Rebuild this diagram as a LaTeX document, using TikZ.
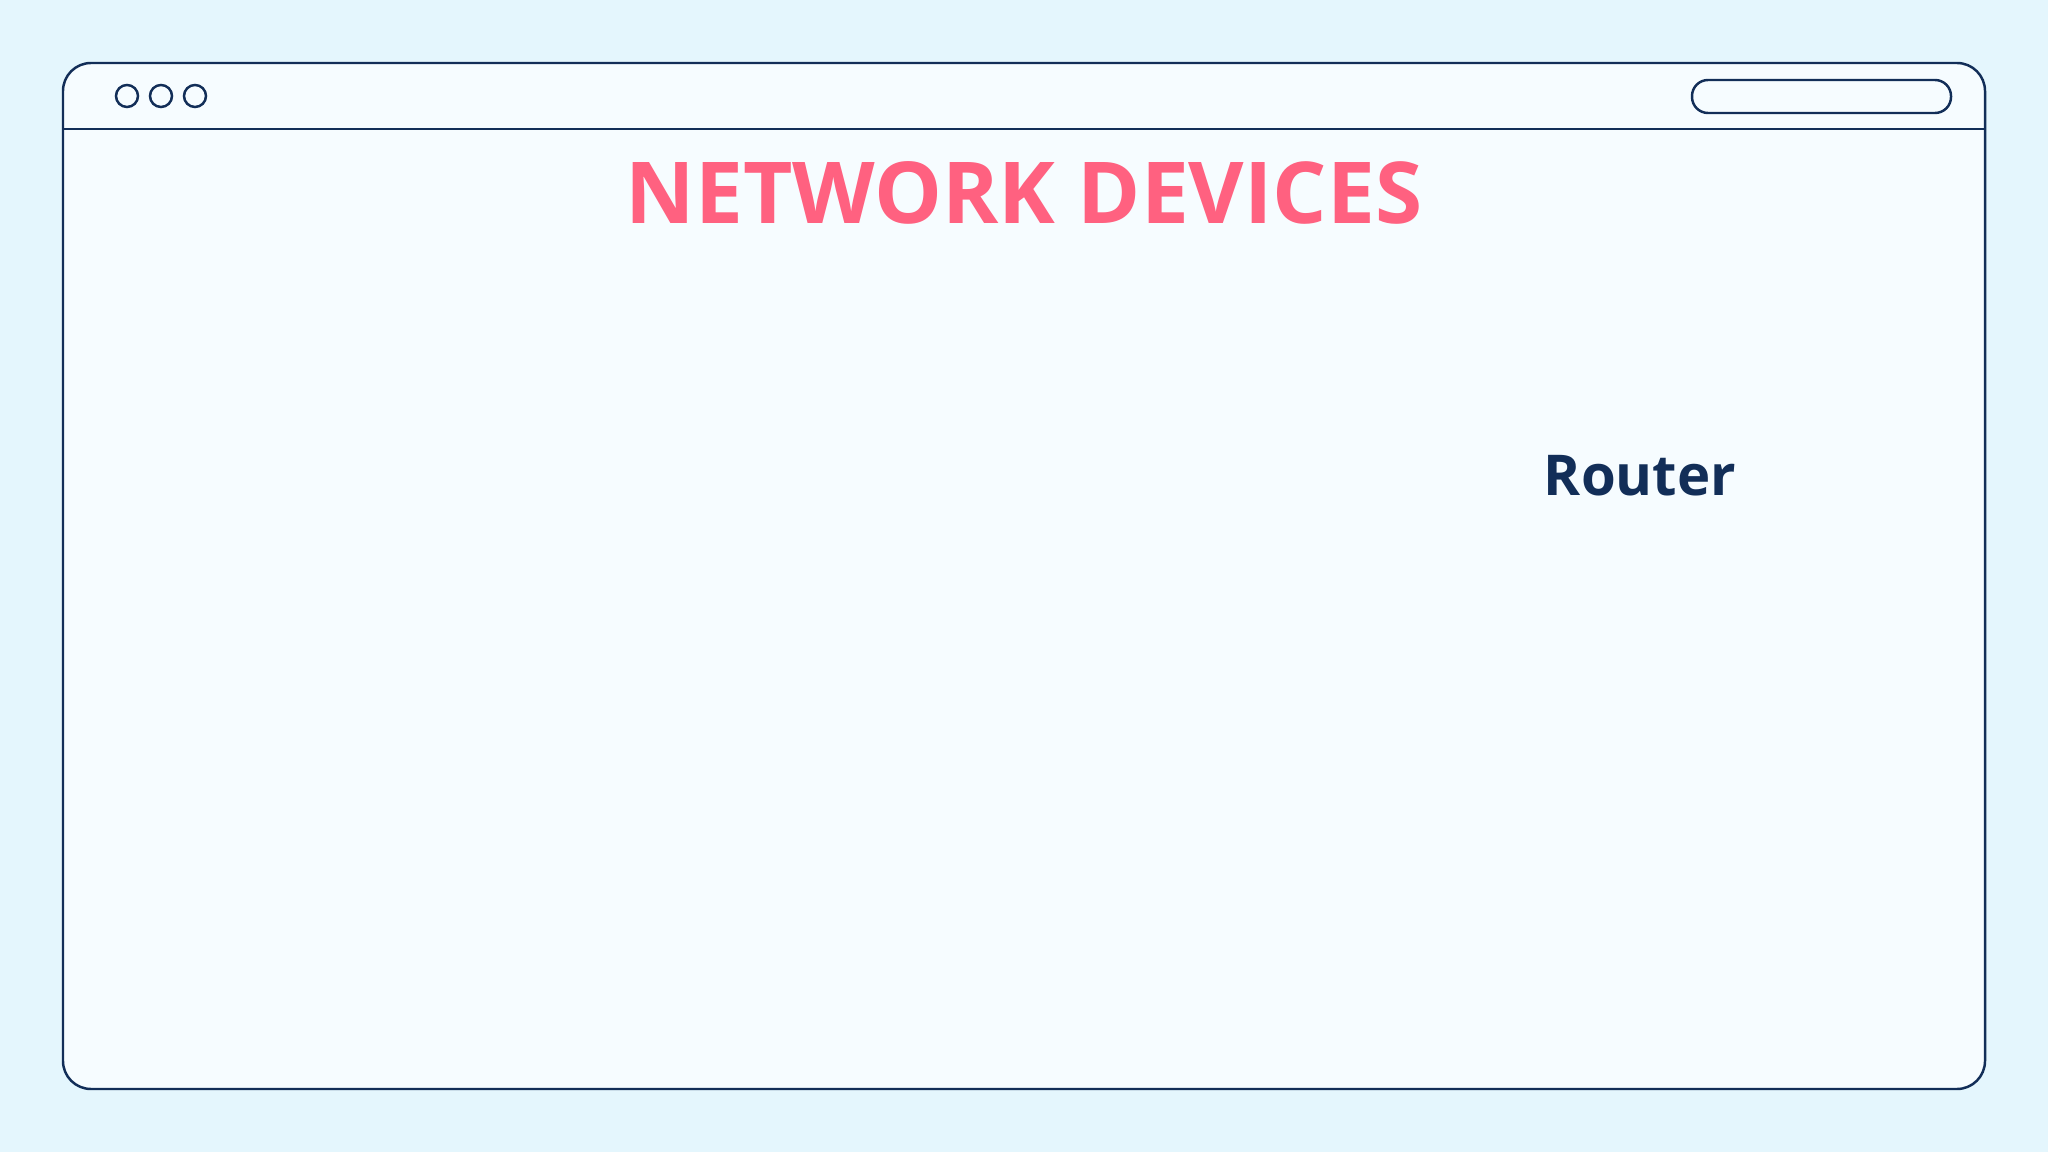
\documentclass[tikz,border=0pt]{standalone}
\usepackage{fontspec}
\setmainfont{Open Sans}
\usepackage{tikz}
\definecolor{pagebg}{HTML}{E4F6FD}
\definecolor{windowbg}{HTML}{F6FCFF}
\definecolor{inkblue}{HTML}{122E58}
\definecolor{titlepink}{HTML}{FF6180}

\begin{document}
\begin{tikzpicture}[x=0.01cm,y=-0.01cm,
    every node/.style={outer sep=0pt, inner sep=0pt},
    outline/.style={draw=inkblue, line width=0.7pt},
    dot/.style={outline, circle, minimum size=0.22cm}]
            \fill[pagebg] (0,0) rectangle (2048,1152);
            \draw[outline, fill=windowbg, rounded corners=0.28cm] (63,63) rectangle (1985,1089);
            \draw[outline] (63,129) -- (1985,129);
            \node[dot] (dotA) at (127,96) {};
            \node[dot] (dotB) at (161,96) {};
            \node[dot] (dotC) at (195,96) {};
            \draw[outline, rounded corners=0.16cm] (1692,80) rectangle (1951,113);
            \node[text=titlepink, font=\fontsize{24.3}{28}\selectfont\bfseries] (title) at (1024,193) {NETWORK DEVICES};
            \node[text=inkblue, font=\fontsize{16}{20}\selectfont\bfseries] (router) at (1640,476) {Router};
            \end{tikzpicture}
\end{document}
